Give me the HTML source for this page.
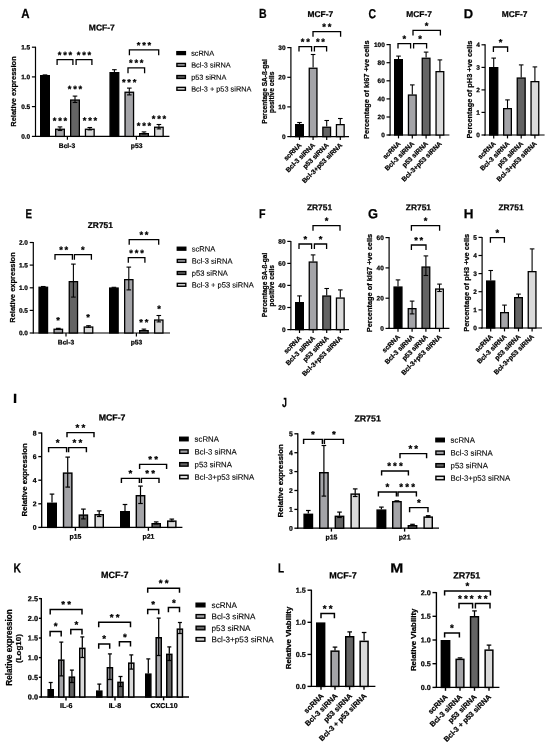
<!DOCTYPE html>
<html lang="en">
<head>
<meta charset="utf-8">
<title>Figure</title>
<style>
html,body{margin:0;padding:0;background:#fff;}
body{width:550px;height:746px;overflow:hidden;}
svg{display:block;filter:blur(0.3px);}
svg path{stroke:#000;fill:none;}
svg rect{stroke:#000;}
svg text{font-family:'Liberation Sans', Arial, sans-serif;fill:#000;stroke:none;}
svg text.b{font-weight:bold;stroke:#000;stroke-width:0.24px;}
svg text.r{font-weight:normal;fill:#000;stroke:#000;stroke-width:0.12px;}
</style>
</head>
<body>
<svg width="550" height="746" viewBox="0 0 550 746">
<rect x="0" y="0" width="550" height="746" style="fill:#fff;stroke:none"/>
<text class="b" font-size="13.2" transform="translate(21.21 18.1) rotate(0.05) scale(0.87 1)">A</text>
<text class="b" x="101.8" y="30.5" font-size="8.5" text-anchor="middle" transform="rotate(0.05 101.8 30.5)">MCF-7</text>
<text class="b" x="16.1" y="91.5" font-size="7.5" text-anchor="middle" transform="rotate(-90 16.1 91.5)">Relative expression</text>
<path d="M35.5 46.7L35.5 136.9" stroke-width="1.2"/>
<path d="M31.9 47.2L35.5 47.2" stroke-width="1.2"/>
<text class="b" x="30.2" y="49.54" font-size="6.5" text-anchor="end" transform="rotate(0.05 30.2 49.54)">1.5</text>
<path d="M31.9 76.9L35.5 76.9" stroke-width="1.2"/>
<text class="b" x="30.2" y="79.24" font-size="6.5" text-anchor="end" transform="rotate(0.05 30.2 79.24)">1.0</text>
<path d="M31.9 106.6L35.5 106.6" stroke-width="1.2"/>
<text class="b" x="30.2" y="108.94" font-size="6.5" text-anchor="end" transform="rotate(0.05 30.2 108.94)">0.5</text>
<path d="M31.9 136.4L35.5 136.4" stroke-width="1.2"/>
<text class="b" x="30.2" y="138.74" font-size="6.5" text-anchor="end" transform="rotate(0.05 30.2 138.74)">0.0</text>
<path d="M35.1 136.4L169.4 136.4" stroke-width="1.2"/>
<path d="M67.4 136.4L67.4 139.8" stroke-width="1.2"/>
<path d="M136.4 136.4L136.4 139.8" stroke-width="1.2"/>
<path d="M45 75L45 74.9" stroke-width="1.1"/>
<path d="M42.7 74.9L47.3 74.9" stroke-width="1.1"/>
<rect x="40.65" y="75.65" width="8.7" height="60.75" fill="#000000" stroke-width="1.3"/>
<path d="M60 128.6L60 126.9" stroke-width="1.1"/>
<path d="M57.7 126.9L62.3 126.9" stroke-width="1.1"/>
<rect x="55.65" y="129.25" width="8.7" height="7.15" fill="#a4a4a8" stroke-width="1.3"/>
<path d="M60 128.6L60 130.5" stroke-width="1.1"/>
<path d="M57.7 130.5L62.3 130.5" stroke-width="1.1"/>
<path d="M75 99.4L75 96.1" stroke-width="1.1"/>
<path d="M72.7 96.1L77.3 96.1" stroke-width="1.1"/>
<rect x="70.65" y="100.05" width="8.7" height="36.35" fill="#646464" stroke-width="1.3"/>
<path d="M75 99.4L75 102.5" stroke-width="1.1"/>
<path d="M72.7 102.5L77.3 102.5" stroke-width="1.1"/>
<path d="M89.8 128.6L89.8 127.5" stroke-width="1.1"/>
<path d="M87.5 127.5L92.1 127.5" stroke-width="1.1"/>
<rect x="85.45" y="129.25" width="8.7" height="7.15" fill="#dadada" stroke-width="1.3"/>
<path d="M89.8 128.6L89.8 129.9" stroke-width="1.1"/>
<path d="M87.5 129.9L92.1 129.9" stroke-width="1.1"/>
<path d="M114.4 72L114.4 69.7" stroke-width="1.1"/>
<path d="M112.1 69.7L116.7 69.7" stroke-width="1.1"/>
<rect x="110.05" y="72.65" width="8.7" height="63.75" fill="#000000" stroke-width="1.3"/>
<path d="M129.3 91.6L129.3 88.1" stroke-width="1.1"/>
<path d="M127 88.1L131.6 88.1" stroke-width="1.1"/>
<rect x="125.05" y="92.25" width="8.5" height="44.15" fill="#a4a4a8" stroke-width="1.3"/>
<path d="M129.3 91.6L129.3 94.9" stroke-width="1.1"/>
<path d="M127 94.9L131.6 94.9" stroke-width="1.1"/>
<path d="M144 133L144 131.9" stroke-width="1.1"/>
<path d="M141.7 131.9L146.3 131.9" stroke-width="1.1"/>
<rect x="139.65" y="133.65" width="8.7" height="2.75" fill="#646464" stroke-width="1.3"/>
<path d="M144 133L144 133.9" stroke-width="1.1"/>
<path d="M141.7 133.9L146.3 133.9" stroke-width="1.1"/>
<path d="M158.9 126.6L158.9 124.5" stroke-width="1.1"/>
<path d="M156.6 124.5L161.2 124.5" stroke-width="1.1"/>
<rect x="154.65" y="127.25" width="8.5" height="9.15" fill="#dadada" stroke-width="1.3"/>
<path d="M158.9 126.6L158.9 128.9" stroke-width="1.1"/>
<path d="M156.6 128.9L161.2 128.9" stroke-width="1.1"/>
<path d="M57.1 65.1L57.1 59.7L72.9 59.7L72.9 65.1" stroke-width="1.3"/>
<text class="b" font-size="9.4" text-anchor="middle" x="59.6 65 70.4" y="58.22" transform="rotate(0.05 65 58.22)">***</text>
<path d="M76.1 65.1L76.1 59.7L91.9 59.7L91.9 65.1" stroke-width="1.3"/>
<text class="b" font-size="9.4" text-anchor="middle" x="78.6 84 89.4" y="58.22" transform="rotate(0.05 84 58.22)">***</text>
<path d="M129.4 55.3L129.4 49.9L158.7 49.9L158.7 55.3" stroke-width="1.3"/>
<text class="b" font-size="9.4" text-anchor="middle" x="138.65 144.05 149.45" y="48.42" transform="rotate(0.05 144.05 48.42)">***</text>
<path d="M128 73.2L128 67.8L144.6 67.8L144.6 73.2" stroke-width="1.3"/>
<text class="b" font-size="9.4" text-anchor="middle" x="130.9 136.3 141.7" y="65.92" transform="rotate(0.05 136.3 65.92)">***</text>
<text class="b" font-size="9.4" text-anchor="middle" x="54.6 60 65.4" y="124.02" transform="rotate(0.05 60 124.02)">***</text>
<text class="b" font-size="9.4" text-anchor="middle" x="69.6 75 80.4" y="92.22" transform="rotate(0.05 75 92.22)">***</text>
<text class="b" font-size="9.4" text-anchor="middle" x="84.6 90 95.4" y="123.82" transform="rotate(0.05 90 123.82)">***</text>
<text class="b" font-size="9.4" text-anchor="middle" x="123.8 129.2 134.6" y="85.62" transform="rotate(0.05 129.2 85.62)">***</text>
<text class="b" font-size="9.4" text-anchor="middle" x="138.6 144 149.4" y="129.02" transform="rotate(0.05 144 129.02)">***</text>
<text class="b" font-size="9.4" text-anchor="middle" x="153.6 159 164.4" y="122.02" transform="rotate(0.05 159 122.02)">***</text>
<text class="b" x="67" y="147.9" font-size="6.7" text-anchor="middle" transform="rotate(0.05 67 147.9)">Bcl-3</text>
<text class="b" x="136.6" y="147.9" font-size="6.7" text-anchor="middle" transform="rotate(0.05 136.6 147.9)">p53</text>
<rect x="176.9" y="51.65" width="8.5" height="2.9" fill="#000000" stroke-width="1.4"/>
<text class="r" x="191.2" y="55.75" font-size="7.35" transform="rotate(0.05 191.2 55.75)">scRNA</text>
<rect x="176.9" y="63.45" width="8.5" height="2.9" fill="#a4a4a8" stroke-width="1.4"/>
<text class="r" x="191.2" y="67.55" font-size="7.35" transform="rotate(0.05 191.2 67.55)">Bcl-3 siRNA</text>
<rect x="176.9" y="75.55" width="8.5" height="2.9" fill="#646464" stroke-width="1.4"/>
<text class="r" x="191.2" y="79.65" font-size="7.35" transform="rotate(0.05 191.2 79.65)">p53 siRNA</text>
<rect x="176.9" y="87.35" width="8.5" height="2.9" fill="#dadada" stroke-width="1.4"/>
<text class="r" x="191.2" y="91.45" font-size="7.35" transform="rotate(0.05 191.2 91.45)">Bcl-3 + p53 siRNA</text>
<text class="b" font-size="13.2" transform="translate(259.1 18.1) rotate(0.05) scale(0.8 1)">B</text>
<text class="b" x="320.3" y="16.9" font-size="8.4" text-anchor="middle" transform="rotate(0.05 320.3 16.9)">MCF-7</text>
<text class="b" x="266.5" y="91.5" font-size="6.6" text-anchor="middle" transform="rotate(-90 266.5 91.5)">Percentage SA-ß-gal</text>
<text class="b" x="274.5" y="92.4" font-size="6.6" text-anchor="middle" transform="rotate(-90 274.5 92.4)">positive cells</text>
<path d="M290.9 47.1L290.9 137.1" stroke-width="1.2"/>
<path d="M287.3 47.6L290.9 47.6" stroke-width="1.2"/>
<text class="b" x="285.6" y="49.94" font-size="6.5" text-anchor="end" transform="rotate(0.05 285.6 49.94)">30</text>
<path d="M287.3 77.3L290.9 77.3" stroke-width="1.2"/>
<text class="b" x="285.6" y="79.64" font-size="6.5" text-anchor="end" transform="rotate(0.05 285.6 79.64)">20</text>
<path d="M287.3 106.9L290.9 106.9" stroke-width="1.2"/>
<text class="b" x="285.6" y="109.24" font-size="6.5" text-anchor="end" transform="rotate(0.05 285.6 109.24)">10</text>
<path d="M287.3 136.6L290.9 136.6" stroke-width="1.2"/>
<text class="b" x="285.6" y="138.94" font-size="6.5" text-anchor="end" transform="rotate(0.05 285.6 138.94)">0</text>
<path d="M290.1 136.6L349 136.6" stroke-width="1.2"/>
<path d="M299.5 136.6L299.5 140" stroke-width="1.2"/>
<path d="M313.1 136.6L313.1 140" stroke-width="1.2"/>
<path d="M326.7 136.6L326.7 140" stroke-width="1.2"/>
<path d="M340.3 136.6L340.3 140" stroke-width="1.2"/>
<path d="M299.5 124L299.5 122.5" stroke-width="1.1"/>
<path d="M297.2 122.5L301.8 122.5" stroke-width="1.1"/>
<rect x="295.65" y="124.65" width="7.7" height="11.95" fill="#000000" stroke-width="1.3"/>
<path d="M313.1 67.6L313.1 54.5" stroke-width="1.1"/>
<path d="M310.8 54.5L315.4 54.5" stroke-width="1.1"/>
<rect x="309.25" y="68.25" width="7.7" height="68.35" fill="#a4a4a8" stroke-width="1.3"/>
<path d="M326.7 126.6L326.7 120.5" stroke-width="1.1"/>
<path d="M324.4 120.5L329 120.5" stroke-width="1.1"/>
<rect x="322.85" y="127.25" width="7.7" height="9.35" fill="#646464" stroke-width="1.3"/>
<path d="M340.3 124L340.3 118.5" stroke-width="1.1"/>
<path d="M338 118.5L342.6 118.5" stroke-width="1.1"/>
<rect x="336.45" y="124.65" width="7.7" height="11.95" fill="#dadada" stroke-width="1.3"/>
<path d="M313 36.8L313 31.6L340.6 31.6L340.6 36.8" stroke-width="1.3"/>
<text class="b" font-size="9.4" text-anchor="middle" x="324.1 329.5" y="30.12" transform="rotate(0.05 326.8 30.12)">**</text>
<path d="M299 51.6L299 46.6L311.6 46.6L311.6 51.6" stroke-width="1.3"/>
<text class="b" font-size="9.4" text-anchor="middle" x="302.6 308" y="45.12" transform="rotate(0.05 305.3 45.12)">**</text>
<path d="M314.4 51.6L314.4 46.6L326.6 46.6L326.6 51.6" stroke-width="1.3"/>
<text class="b" font-size="9.4" text-anchor="middle" x="317.8 323.2" y="45.12" transform="rotate(0.05 320.5 45.12)">**</text>
<text class="b" x="301.9" y="145.6" font-size="6.7" text-anchor="end" transform="rotate(-45 301.9 145.6)">scRNA</text>
<text class="b" x="315.5" y="145.6" font-size="6.7" text-anchor="end" transform="rotate(-45 315.5 145.6)">Bcl-3 siRNA</text>
<text class="b" x="329.1" y="145.6" font-size="6.7" text-anchor="end" transform="rotate(-45 329.1 145.6)">p53 siRNA</text>
<text class="b" x="342.7" y="145.6" font-size="6.7" text-anchor="end" transform="rotate(-45 342.7 145.6)">Bcl-3+p53 siRNA</text>
<text class="b" font-size="13.2" transform="translate(368.58 18.2) rotate(0.05) scale(0.79 1)">C</text>
<text class="b" x="419.1" y="16.9" font-size="8.4" text-anchor="middle" transform="rotate(0.05 419.1 16.9)">MCF-7</text>
<text class="b" x="369.5" y="89.7" font-size="7.4" text-anchor="middle" transform="rotate(-90 369.5 89.7)">Percentage of ki67 +ve cells</text>
<path d="M390.1 44.1L390.1 135.5" stroke-width="1.2"/>
<path d="M386.5 44.6L390.1 44.6" stroke-width="1.2"/>
<text class="b" x="384.8" y="46.94" font-size="6.5" text-anchor="end" transform="rotate(0.05 384.8 46.94)">100</text>
<path d="M386.5 62.7L390.1 62.7" stroke-width="1.2"/>
<text class="b" x="384.8" y="65.04" font-size="6.5" text-anchor="end" transform="rotate(0.05 384.8 65.04)">80</text>
<path d="M386.5 80.8L390.1 80.8" stroke-width="1.2"/>
<text class="b" x="384.8" y="83.14" font-size="6.5" text-anchor="end" transform="rotate(0.05 384.8 83.14)">60</text>
<path d="M386.5 98.9L390.1 98.9" stroke-width="1.2"/>
<text class="b" x="384.8" y="101.24" font-size="6.5" text-anchor="end" transform="rotate(0.05 384.8 101.24)">40</text>
<path d="M386.5 117L390.1 117" stroke-width="1.2"/>
<text class="b" x="384.8" y="119.34" font-size="6.5" text-anchor="end" transform="rotate(0.05 384.8 119.34)">20</text>
<path d="M386.5 135L390.1 135" stroke-width="1.2"/>
<text class="b" x="384.8" y="137.34" font-size="6.5" text-anchor="end" transform="rotate(0.05 384.8 137.34)">0</text>
<path d="M388.5 135L449.4 135" stroke-width="1.2"/>
<path d="M398.5 135L398.5 138.4" stroke-width="1.2"/>
<path d="M412.3 135L412.3 138.4" stroke-width="1.2"/>
<path d="M426.1 135L426.1 138.4" stroke-width="1.2"/>
<path d="M439.9 135L439.9 138.4" stroke-width="1.2"/>
<path d="M398.5 59L398.5 56.1" stroke-width="1.1"/>
<path d="M396.2 56.1L400.8 56.1" stroke-width="1.1"/>
<rect x="394.65" y="59.65" width="7.7" height="75.35" fill="#000000" stroke-width="1.3"/>
<path d="M412.3 94.4L412.3 84.9" stroke-width="1.1"/>
<path d="M410 84.9L414.6 84.9" stroke-width="1.1"/>
<rect x="408.45" y="95.05" width="7.7" height="39.95" fill="#a4a4a8" stroke-width="1.3"/>
<path d="M426.1 57.6L426.1 52.1" stroke-width="1.1"/>
<path d="M423.8 52.1L428.4 52.1" stroke-width="1.1"/>
<rect x="422.25" y="58.25" width="7.7" height="76.75" fill="#646464" stroke-width="1.3"/>
<path d="M439.9 71L439.9 59.9" stroke-width="1.1"/>
<path d="M437.6 59.9L442.2 59.9" stroke-width="1.1"/>
<rect x="436.05" y="71.65" width="7.7" height="63.35" fill="#dadada" stroke-width="1.3"/>
<path d="M413 35.6L413 30.4L440.4 30.4L440.4 35.6" stroke-width="1.3"/>
<text class="b" font-size="9.4" text-anchor="middle" x="426.7" y="28.92" transform="rotate(0.05 426.7 28.92)">*</text>
<path d="M398 48.6L398 43.6L410.6 43.6L410.6 48.6" stroke-width="1.3"/>
<text class="b" font-size="9.4" text-anchor="middle" x="404.3" y="42.12" transform="rotate(0.05 404.3 42.12)">*</text>
<path d="M413.6 48.6L413.6 43.6L426.6 43.6L426.6 48.6" stroke-width="1.3"/>
<text class="b" font-size="9.4" text-anchor="middle" x="420.1" y="42.12" transform="rotate(0.05 420.1 42.12)">*</text>
<text class="b" x="400.9" y="144" font-size="6.7" text-anchor="end" transform="rotate(-45 400.9 144)">scRNA</text>
<text class="b" x="414.7" y="144" font-size="6.7" text-anchor="end" transform="rotate(-45 414.7 144)">Bcl-3 siRNA</text>
<text class="b" x="428.5" y="144" font-size="6.7" text-anchor="end" transform="rotate(-45 428.5 144)">p53 siRNA</text>
<text class="b" x="442.3" y="144" font-size="6.7" text-anchor="end" transform="rotate(-45 442.3 144)">Bcl-3+p53 siRNA</text>
<text class="b" font-size="13.2" transform="translate(463.84 18.2) rotate(0.05) scale(0.98 1)">D</text>
<text class="b" x="514.6" y="16.9" font-size="8.4" text-anchor="middle" transform="rotate(0.05 514.6 16.9)">MCF-7</text>
<text class="b" x="472.2" y="89.6" font-size="7.4" text-anchor="middle" transform="rotate(-90 472.2 89.6)">Percentage of pH3 +ve cells</text>
<path d="M485.1 44.3L485.1 135.5" stroke-width="1.2"/>
<path d="M481.5 44.8L485.1 44.8" stroke-width="1.2"/>
<text class="b" x="479.8" y="47.14" font-size="6.5" text-anchor="end" transform="rotate(0.05 479.8 47.14)">4</text>
<path d="M481.5 67.4L485.1 67.4" stroke-width="1.2"/>
<text class="b" x="479.8" y="69.74" font-size="6.5" text-anchor="end" transform="rotate(0.05 479.8 69.74)">3</text>
<path d="M481.5 89.9L485.1 89.9" stroke-width="1.2"/>
<text class="b" x="479.8" y="92.24" font-size="6.5" text-anchor="end" transform="rotate(0.05 479.8 92.24)">2</text>
<path d="M481.5 112.4L485.1 112.4" stroke-width="1.2"/>
<text class="b" x="479.8" y="114.74" font-size="6.5" text-anchor="end" transform="rotate(0.05 479.8 114.74)">1</text>
<path d="M481.5 135L485.1 135" stroke-width="1.2"/>
<text class="b" x="479.8" y="137.34" font-size="6.5" text-anchor="end" transform="rotate(0.05 479.8 137.34)">0</text>
<path d="M483.9 135L544.6 135" stroke-width="1.2"/>
<path d="M493.7 135L493.7 138.4" stroke-width="1.2"/>
<path d="M507.5 135L507.5 138.4" stroke-width="1.2"/>
<path d="M521.2 135L521.2 138.4" stroke-width="1.2"/>
<path d="M534.9 135L534.9 138.4" stroke-width="1.2"/>
<path d="M493.7 67L493.7 58.1" stroke-width="1.1"/>
<path d="M491.4 58.1L496 58.1" stroke-width="1.1"/>
<rect x="489.65" y="67.65" width="8.1" height="67.35" fill="#000000" stroke-width="1.3"/>
<path d="M507.5 108L507.5 99.9" stroke-width="1.1"/>
<path d="M505.2 99.9L509.8 99.9" stroke-width="1.1"/>
<rect x="503.65" y="108.65" width="7.7" height="26.35" fill="#a4a4a8" stroke-width="1.3"/>
<path d="M521.2 77.4L521.2 64.9" stroke-width="1.1"/>
<path d="M518.9 64.9L523.5 64.9" stroke-width="1.1"/>
<rect x="517.25" y="78.05" width="7.9" height="56.95" fill="#646464" stroke-width="1.3"/>
<path d="M534.9 81L534.9 66.9" stroke-width="1.1"/>
<path d="M532.6 66.9L537.2 66.9" stroke-width="1.1"/>
<rect x="531.05" y="81.65" width="7.7" height="53.35" fill="#dadada" stroke-width="1.3"/>
<path d="M493.4 52L493.4 47L507.6 47L507.6 52" stroke-width="1.3"/>
<text class="b" font-size="9.4" text-anchor="middle" x="500.5" y="45.52" transform="rotate(0.05 500.5 45.52)">*</text>
<text class="b" x="496.1" y="144" font-size="6.7" text-anchor="end" transform="rotate(-45 496.1 144)">scRNA</text>
<text class="b" x="509.9" y="144" font-size="6.7" text-anchor="end" transform="rotate(-45 509.9 144)">Bcl-3 siRNA</text>
<text class="b" x="523.6" y="144" font-size="6.7" text-anchor="end" transform="rotate(-45 523.6 144)">p53 siRNA</text>
<text class="b" x="537.3" y="144" font-size="6.7" text-anchor="end" transform="rotate(-45 537.3 144)">Bcl-3+p53 siRNA</text>
<text class="b" font-size="13.2" transform="translate(25.55 218.3) rotate(0.05) scale(0.74 1)">E</text>
<text class="b" x="100.3" y="228" font-size="8.4" text-anchor="middle" transform="rotate(0.05 100.3 228)">ZR751</text>
<text class="b" x="14.8" y="287.5" font-size="7.5" text-anchor="middle" transform="rotate(-90 14.8 287.5)">Relative expression</text>
<path d="M33.3 242L33.3 333.5" stroke-width="1.2"/>
<path d="M29.7 242.5L33.3 242.5" stroke-width="1.2"/>
<text class="b" x="28" y="244.84" font-size="6.5" text-anchor="end" transform="rotate(0.05 28 244.84)">2.0</text>
<path d="M29.7 265.1L33.3 265.1" stroke-width="1.2"/>
<text class="b" x="28" y="267.44" font-size="6.5" text-anchor="end" transform="rotate(0.05 28 267.44)">1.5</text>
<path d="M29.7 287.8L33.3 287.8" stroke-width="1.2"/>
<text class="b" x="28" y="290.14" font-size="6.5" text-anchor="end" transform="rotate(0.05 28 290.14)">1.0</text>
<path d="M29.7 310.4L33.3 310.4" stroke-width="1.2"/>
<text class="b" x="28" y="312.74" font-size="6.5" text-anchor="end" transform="rotate(0.05 28 312.74)">0.5</text>
<path d="M29.7 333L33.3 333" stroke-width="1.2"/>
<text class="b" x="28" y="335.34" font-size="6.5" text-anchor="end" transform="rotate(0.05 28 335.34)">0.0</text>
<path d="M33.1 333L170 333" stroke-width="1.2"/>
<path d="M66 333L66 336.4" stroke-width="1.2"/>
<path d="M136.4 333L136.4 336.4" stroke-width="1.2"/>
<path d="M43.3 286.6L43.3 286.5" stroke-width="1.1"/>
<path d="M41 286.5L45.6 286.5" stroke-width="1.1"/>
<rect x="39.05" y="287.25" width="8.5" height="45.75" fill="#000000" stroke-width="1.3"/>
<path d="M58.3 328.6L58.3 328.3" stroke-width="1.1"/>
<path d="M56 328.3L60.6 328.3" stroke-width="1.1"/>
<rect x="54.05" y="329.25" width="8.5" height="3.75" fill="#a4a4a8" stroke-width="1.3"/>
<path d="M58.3 328.6L58.3 329.1" stroke-width="1.1"/>
<path d="M56 329.1L60.6 329.1" stroke-width="1.1"/>
<path d="M73.4 281L73.4 264.1" stroke-width="1.1"/>
<path d="M71.1 264.1L75.7 264.1" stroke-width="1.1"/>
<rect x="69.25" y="281.65" width="8.3" height="51.35" fill="#646464" stroke-width="1.3"/>
<path d="M73.4 281L73.4 297.1" stroke-width="1.1"/>
<path d="M71.1 297.1L75.7 297.1" stroke-width="1.1"/>
<path d="M88.5 326.4L88.5 325.7" stroke-width="1.1"/>
<path d="M86.2 325.7L90.8 325.7" stroke-width="1.1"/>
<rect x="84.25" y="327.05" width="8.5" height="5.95" fill="#dadada" stroke-width="1.3"/>
<path d="M88.5 326.4L88.5 327.3" stroke-width="1.1"/>
<path d="M86.2 327.3L90.8 327.3" stroke-width="1.1"/>
<path d="M113.9 287.4L113.9 287.3" stroke-width="1.1"/>
<path d="M111.6 287.3L116.2 287.3" stroke-width="1.1"/>
<rect x="109.65" y="288.05" width="8.5" height="44.95" fill="#000000" stroke-width="1.3"/>
<path d="M128.8 279L128.8 267.1" stroke-width="1.1"/>
<path d="M126.5 267.1L131.1 267.1" stroke-width="1.1"/>
<rect x="124.65" y="279.65" width="8.3" height="53.35" fill="#a4a4a8" stroke-width="1.3"/>
<path d="M128.8 279L128.8 289.9" stroke-width="1.1"/>
<path d="M126.5 289.9L131.1 289.9" stroke-width="1.1"/>
<path d="M143.9 330L143.9 329.1" stroke-width="1.1"/>
<path d="M141.6 329.1L146.2 329.1" stroke-width="1.1"/>
<rect x="139.65" y="330.65" width="8.5" height="2.35" fill="#646464" stroke-width="1.3"/>
<path d="M143.9 330L143.9 330.5" stroke-width="1.1"/>
<path d="M141.6 330.5L146.2 330.5" stroke-width="1.1"/>
<path d="M158.8 319.4L158.8 315.5" stroke-width="1.1"/>
<path d="M156.5 315.5L161.1 315.5" stroke-width="1.1"/>
<rect x="154.65" y="320.05" width="8.3" height="12.95" fill="#dadada" stroke-width="1.3"/>
<path d="M158.8 319.4L158.8 321.9" stroke-width="1.1"/>
<path d="M156.5 321.9L161.1 321.9" stroke-width="1.1"/>
<path d="M55 259.8L55 254.6L72.4 254.6L72.4 259.8" stroke-width="1.3"/>
<text class="b" font-size="9.4" text-anchor="middle" x="61 66.4" y="253.12" transform="rotate(0.05 63.7 253.12)">**</text>
<path d="M74.4 259.8L74.4 254.6L91.4 254.6L91.4 259.8" stroke-width="1.3"/>
<text class="b" font-size="9.4" text-anchor="middle" x="82.9" y="253.12" transform="rotate(0.05 82.9 253.12)">*</text>
<path d="M129.2 244.8L129.2 239.6L158.7 239.6L158.7 244.8" stroke-width="1.3"/>
<text class="b" font-size="9.4" text-anchor="middle" x="141.25 146.65" y="238.12" transform="rotate(0.05 143.95 238.12)">**</text>
<path d="M128.3 262.7L128.3 257.7L144.9 257.7L144.9 262.7" stroke-width="1.3"/>
<text class="b" font-size="9.4" text-anchor="middle" x="131.2 136.6 142" y="256.22" transform="rotate(0.05 136.6 256.22)">***</text>
<text class="b" font-size="9.4" text-anchor="middle" x="58.2" y="323.62" transform="rotate(0.05 58.2 323.62)">*</text>
<text class="b" font-size="9.4" text-anchor="middle" x="88.2" y="320.62" transform="rotate(0.05 88.2 320.62)">*</text>
<text class="b" font-size="9.4" text-anchor="middle" x="141.1 146.5" y="325.62" transform="rotate(0.05 143.8 325.62)">**</text>
<text class="b" font-size="9.4" text-anchor="middle" x="159" y="312.02" transform="rotate(0.05 159 312.02)">*</text>
<text class="b" x="66" y="344.5" font-size="6.7" text-anchor="middle" transform="rotate(0.05 66 344.5)">Bcl-3</text>
<text class="b" x="136.5" y="344.5" font-size="6.7" text-anchor="middle" transform="rotate(0.05 136.5 344.5)">p53</text>
<rect x="177.3" y="247.25" width="8.5" height="2.9" fill="#000000" stroke-width="1.4"/>
<text class="r" x="191.8" y="251.42" font-size="7.55" transform="rotate(0.05 191.8 251.42)">scRNA</text>
<rect x="177.3" y="259.45" width="8.5" height="2.9" fill="#a4a4a8" stroke-width="1.4"/>
<text class="r" x="191.8" y="263.62" font-size="7.55" transform="rotate(0.05 191.8 263.62)">Bcl-3 siRNA</text>
<rect x="177.3" y="271.55" width="8.5" height="2.9" fill="#646464" stroke-width="1.4"/>
<text class="r" x="191.8" y="275.72" font-size="7.55" transform="rotate(0.05 191.8 275.72)">p53 siRNA</text>
<rect x="177.3" y="283.35" width="8.5" height="2.9" fill="#dadada" stroke-width="1.4"/>
<text class="r" x="191.8" y="287.52" font-size="7.55" transform="rotate(0.05 191.8 287.52)">Bcl-3 + p53 siRNA</text>
<text class="b" font-size="13.2" transform="translate(258.98 218.3) rotate(0.05) scale(0.81 1)">F</text>
<text class="b" x="319.5" y="210.3" font-size="8.4" text-anchor="middle" transform="rotate(0.05 319.5 210.3)">ZR751</text>
<text class="b" x="266.5" y="285" font-size="6.6" text-anchor="middle" transform="rotate(-90 266.5 285)">Percentage SA-ß-gal</text>
<text class="b" x="274.5" y="285.8" font-size="6.6" text-anchor="middle" transform="rotate(-90 274.5 285.8)">positive cells</text>
<path d="M290.9 240.9L290.9 330.1" stroke-width="1.2"/>
<path d="M287.3 241.4L290.9 241.4" stroke-width="1.2"/>
<text class="b" x="285.6" y="243.74" font-size="6.5" text-anchor="end" transform="rotate(0.05 285.6 243.74)">80</text>
<path d="M287.3 263.4L290.9 263.4" stroke-width="1.2"/>
<text class="b" x="285.6" y="265.74" font-size="6.5" text-anchor="end" transform="rotate(0.05 285.6 265.74)">60</text>
<path d="M287.3 285.4L290.9 285.4" stroke-width="1.2"/>
<text class="b" x="285.6" y="287.74" font-size="6.5" text-anchor="end" transform="rotate(0.05 285.6 287.74)">40</text>
<path d="M287.3 307.5L290.9 307.5" stroke-width="1.2"/>
<text class="b" x="285.6" y="309.84" font-size="6.5" text-anchor="end" transform="rotate(0.05 285.6 309.84)">20</text>
<path d="M287.3 329.6L290.9 329.6" stroke-width="1.2"/>
<text class="b" x="285.6" y="331.94" font-size="6.5" text-anchor="end" transform="rotate(0.05 285.6 331.94)">0</text>
<path d="M290.1 329.6L349 329.6" stroke-width="1.2"/>
<path d="M299.5 329.6L299.5 333" stroke-width="1.2"/>
<path d="M313.1 329.6L313.1 333" stroke-width="1.2"/>
<path d="M326.7 329.6L326.7 333" stroke-width="1.2"/>
<path d="M340.3 329.6L340.3 333" stroke-width="1.2"/>
<path d="M299.5 302L299.5 295.9" stroke-width="1.1"/>
<path d="M297.2 295.9L301.8 295.9" stroke-width="1.1"/>
<rect x="295.65" y="302.65" width="7.7" height="26.95" fill="#000000" stroke-width="1.3"/>
<path d="M313.1 261.4L313.1 254.9" stroke-width="1.1"/>
<path d="M310.8 254.9L315.4 254.9" stroke-width="1.1"/>
<rect x="309.25" y="262.05" width="7.7" height="67.55" fill="#a4a4a8" stroke-width="1.3"/>
<path d="M326.7 295.4L326.7 288.5" stroke-width="1.1"/>
<path d="M324.4 288.5L329 288.5" stroke-width="1.1"/>
<rect x="322.85" y="296.05" width="7.7" height="33.55" fill="#646464" stroke-width="1.3"/>
<path d="M340.3 297.4L340.3 289.9" stroke-width="1.1"/>
<path d="M338 289.9L342.6 289.9" stroke-width="1.1"/>
<rect x="336.45" y="298.05" width="7.7" height="31.55" fill="#dadada" stroke-width="1.3"/>
<path d="M313 230.8L313 225.6L340 225.6L340 230.8" stroke-width="1.3"/>
<text class="b" font-size="9.4" text-anchor="middle" x="326.5" y="224.12" transform="rotate(0.05 326.5 224.12)">*</text>
<path d="M299 249L299 244L311.6 244L311.6 249" stroke-width="1.3"/>
<text class="b" font-size="9.4" text-anchor="middle" x="305.3" y="242.52" transform="rotate(0.05 305.3 242.52)">*</text>
<path d="M314.4 249L314.4 244L326.6 244L326.6 249" stroke-width="1.3"/>
<text class="b" font-size="9.4" text-anchor="middle" x="320.5" y="242.52" transform="rotate(0.05 320.5 242.52)">*</text>
<text class="b" x="301.9" y="338.6" font-size="6.7" text-anchor="end" transform="rotate(-45 301.9 338.6)">scRNA</text>
<text class="b" x="315.5" y="338.6" font-size="6.7" text-anchor="end" transform="rotate(-45 315.5 338.6)">Bcl-3 siRNA</text>
<text class="b" x="329.1" y="338.6" font-size="6.7" text-anchor="end" transform="rotate(-45 329.1 338.6)">p53 siRNA</text>
<text class="b" x="342.7" y="338.6" font-size="6.7" text-anchor="end" transform="rotate(-45 342.7 338.6)">Bcl-3+p53 siRNA</text>
<text class="b" font-size="13.2" transform="translate(368.08 218.3) rotate(0.05) scale(0.97 1)">G</text>
<text class="b" x="418.4" y="210.3" font-size="8.4" text-anchor="middle" transform="rotate(0.05 418.4 210.3)">ZR751</text>
<text class="b" x="372.2" y="283" font-size="7.4" text-anchor="middle" transform="rotate(-90 372.2 283)">Percentage of ki67 +ve cells</text>
<path d="M389.1 237.1L389.1 328.9" stroke-width="1.2"/>
<path d="M385.5 237.6L389.1 237.6" stroke-width="1.2"/>
<text class="b" x="383.8" y="239.94" font-size="6.5" text-anchor="end" transform="rotate(0.05 383.8 239.94)">60</text>
<path d="M385.5 267.9L389.1 267.9" stroke-width="1.2"/>
<text class="b" x="383.8" y="270.24" font-size="6.5" text-anchor="end" transform="rotate(0.05 383.8 270.24)">40</text>
<path d="M385.5 298.2L389.1 298.2" stroke-width="1.2"/>
<text class="b" x="383.8" y="300.54" font-size="6.5" text-anchor="end" transform="rotate(0.05 383.8 300.54)">20</text>
<path d="M385.5 328.4L389.1 328.4" stroke-width="1.2"/>
<text class="b" x="383.8" y="330.74" font-size="6.5" text-anchor="end" transform="rotate(0.05 383.8 330.74)">0</text>
<path d="M388.1 328.4L449.4 328.4" stroke-width="1.2"/>
<path d="M398 328.4L398 331.8" stroke-width="1.2"/>
<path d="M412.1 328.4L412.1 331.8" stroke-width="1.2"/>
<path d="M425.9 328.4L425.9 331.8" stroke-width="1.2"/>
<path d="M439.5 328.4L439.5 331.8" stroke-width="1.2"/>
<path d="M398 286.4L398 279.9" stroke-width="1.1"/>
<path d="M395.7 279.9L400.3 279.9" stroke-width="1.1"/>
<rect x="394.05" y="287.05" width="7.9" height="41.35" fill="#000000" stroke-width="1.3"/>
<path d="M412.1 308L412.1 301.1" stroke-width="1.1"/>
<path d="M409.8 301.1L414.4 301.1" stroke-width="1.1"/>
<rect x="408.25" y="308.65" width="7.7" height="19.75" fill="#a4a4a8" stroke-width="1.3"/>
<path d="M412.1 308L412.1 313.9" stroke-width="1.1"/>
<path d="M409.8 313.9L414.4 313.9" stroke-width="1.1"/>
<path d="M425.9 266.4L425.9 255.9" stroke-width="1.1"/>
<path d="M423.6 255.9L428.2 255.9" stroke-width="1.1"/>
<rect x="422.05" y="267.05" width="7.7" height="61.35" fill="#646464" stroke-width="1.3"/>
<path d="M425.9 266.4L425.9 275.5" stroke-width="1.1"/>
<path d="M423.6 275.5L428.2 275.5" stroke-width="1.1"/>
<path d="M439.5 288.4L439.5 284.1" stroke-width="1.1"/>
<path d="M437.2 284.1L441.8 284.1" stroke-width="1.1"/>
<rect x="435.65" y="289.05" width="7.7" height="39.35" fill="#dadada" stroke-width="1.3"/>
<path d="M439.5 288.4L439.5 291.5" stroke-width="1.1"/>
<path d="M437.2 291.5L441.8 291.5" stroke-width="1.1"/>
<path d="M411.4 230.8L411.4 225.6L439.6 225.6L439.6 230.8" stroke-width="1.3"/>
<text class="b" font-size="9.4" text-anchor="middle" x="425.5" y="224.12" transform="rotate(0.05 425.5 224.12)">*</text>
<path d="M411.4 250L411.4 245L426 245L426 250" stroke-width="1.3"/>
<text class="b" font-size="9.4" text-anchor="middle" x="416 421.4" y="243.52" transform="rotate(0.05 418.7 243.52)">**</text>
<text class="b" x="400.4" y="337.4" font-size="6.7" text-anchor="end" transform="rotate(-45 400.4 337.4)">scRNA</text>
<text class="b" x="414.5" y="337.4" font-size="6.7" text-anchor="end" transform="rotate(-45 414.5 337.4)">Bcl-3 siRNA</text>
<text class="b" x="428.3" y="337.4" font-size="6.7" text-anchor="end" transform="rotate(-45 428.3 337.4)">p53 siRNA</text>
<text class="b" x="441.9" y="337.4" font-size="6.7" text-anchor="end" transform="rotate(-45 441.9 337.4)">Bcl-3+p53 siRNA</text>
<text class="b" font-size="13.2" transform="translate(463.8 218.3) rotate(0.05) scale(1.02 1)">H</text>
<text class="b" x="511" y="210.3" font-size="8.4" text-anchor="middle" transform="rotate(0.05 511 210.3)">ZR751</text>
<text class="b" x="469.5" y="282.8" font-size="7.4" text-anchor="middle" transform="rotate(-90 469.5 282.8)">Percentage of pH3 +ve cells</text>
<path d="M482.1 236.9L482.1 328.5" stroke-width="1.2"/>
<path d="M478.5 237.4L482.1 237.4" stroke-width="1.2"/>
<text class="b" x="476.8" y="239.74" font-size="6.5" text-anchor="end" transform="rotate(0.05 476.8 239.74)">5</text>
<path d="M478.5 255.5L482.1 255.5" stroke-width="1.2"/>
<text class="b" x="476.8" y="257.84" font-size="6.5" text-anchor="end" transform="rotate(0.05 476.8 257.84)">4</text>
<path d="M478.5 273.6L482.1 273.6" stroke-width="1.2"/>
<text class="b" x="476.8" y="275.94" font-size="6.5" text-anchor="end" transform="rotate(0.05 476.8 275.94)">3</text>
<path d="M478.5 291.7L482.1 291.7" stroke-width="1.2"/>
<text class="b" x="476.8" y="294.04" font-size="6.5" text-anchor="end" transform="rotate(0.05 476.8 294.04)">2</text>
<path d="M478.5 309.9L482.1 309.9" stroke-width="1.2"/>
<text class="b" x="476.8" y="312.24" font-size="6.5" text-anchor="end" transform="rotate(0.05 476.8 312.24)">1</text>
<path d="M478.5 328L482.1 328" stroke-width="1.2"/>
<text class="b" x="476.8" y="330.34" font-size="6.5" text-anchor="end" transform="rotate(0.05 476.8 330.34)">0</text>
<path d="M480.9 328L542 328" stroke-width="1.2"/>
<path d="M490.7 328L490.7 331.4" stroke-width="1.2"/>
<path d="M504.5 328L504.5 331.4" stroke-width="1.2"/>
<path d="M518.5 328L518.5 331.4" stroke-width="1.2"/>
<path d="M532.1 328L532.1 331.4" stroke-width="1.2"/>
<path d="M490.7 280.4L490.7 270.5" stroke-width="1.1"/>
<path d="M488.4 270.5L493 270.5" stroke-width="1.1"/>
<rect x="486.65" y="281.05" width="8.1" height="46.95" fill="#000000" stroke-width="1.3"/>
<path d="M504.5 312L504.5 305.1" stroke-width="1.1"/>
<path d="M502.2 305.1L506.8 305.1" stroke-width="1.1"/>
<rect x="500.65" y="312.65" width="7.7" height="15.35" fill="#a4a4a8" stroke-width="1.3"/>
<path d="M518.5 297L518.5 294.1" stroke-width="1.1"/>
<path d="M516.2 294.1L520.8 294.1" stroke-width="1.1"/>
<rect x="514.65" y="297.65" width="7.7" height="30.35" fill="#646464" stroke-width="1.3"/>
<path d="M532.1 271L532.1 248.9" stroke-width="1.1"/>
<path d="M529.8 248.9L534.4 248.9" stroke-width="1.1"/>
<rect x="528.25" y="271.65" width="7.7" height="56.35" fill="#dadada" stroke-width="1.3"/>
<path d="M490.4 242.8L490.4 237.6L504.4 237.6L504.4 242.8" stroke-width="1.3"/>
<text class="b" font-size="9.4" text-anchor="middle" x="497.4" y="236.12" transform="rotate(0.05 497.4 236.12)">*</text>
<text class="b" x="493.1" y="337" font-size="6.7" text-anchor="end" transform="rotate(-45 493.1 337)">scRNA</text>
<text class="b" x="506.9" y="337" font-size="6.7" text-anchor="end" transform="rotate(-45 506.9 337)">Bcl-3 siRNA</text>
<text class="b" x="520.9" y="337" font-size="6.7" text-anchor="end" transform="rotate(-45 520.9 337)">p53 siRNA</text>
<text class="b" x="534.5" y="337" font-size="6.7" text-anchor="end" transform="rotate(-45 534.5 337)">Bcl-3+p53 siRNA</text>
<text class="b" font-size="13.2" transform="translate(13.12 403) rotate(0.05) scale(1.11 1)">I</text>
<text class="b" x="112.1" y="420.6" font-size="8.8" text-anchor="middle" transform="rotate(0.05 112.1 420.6)">MCF-7</text>
<text class="b" x="27.2" y="479.8" font-size="7.8" text-anchor="middle" transform="rotate(-90 27.2 479.8)">Relative expression</text>
<path d="M41.7 432.5L41.7 527.9" stroke-width="1.32"/>
<path d="M38.3 433L41.7 433" stroke-width="1.32"/>
<text class="b" x="36.6" y="435.45" font-size="6.8" text-anchor="end" transform="rotate(0.05 36.6 435.45)">8</text>
<path d="M38.3 456.6L41.7 456.6" stroke-width="1.32"/>
<text class="b" x="36.6" y="459.05" font-size="6.8" text-anchor="end" transform="rotate(0.05 36.6 459.05)">6</text>
<path d="M38.3 480.2L41.7 480.2" stroke-width="1.32"/>
<text class="b" x="36.6" y="482.65" font-size="6.8" text-anchor="end" transform="rotate(0.05 36.6 482.65)">4</text>
<path d="M38.3 503.8L41.7 503.8" stroke-width="1.32"/>
<text class="b" x="36.6" y="506.25" font-size="6.8" text-anchor="end" transform="rotate(0.05 36.6 506.25)">2</text>
<path d="M38.3 527.4L41.7 527.4" stroke-width="1.32"/>
<text class="b" x="36.6" y="529.85" font-size="6.8" text-anchor="end" transform="rotate(0.05 36.6 529.85)">0</text>
<path d="M40.9 527.4L182.4 527.4" stroke-width="1.32"/>
<path d="M75.4 527.4L75.4 530.8" stroke-width="1.32"/>
<path d="M148.4 527.4L148.4 530.8" stroke-width="1.32"/>
<path d="M52 502.6L52 494.1" stroke-width="1.21"/>
<path d="M49.7 494.1L54.3 494.1" stroke-width="1.21"/>
<rect x="47.72" y="503.31" width="8.57" height="24.08" fill="#000000" stroke-width="1.43"/>
<path d="M67.7 472.4L67.7 457.1" stroke-width="1.21"/>
<path d="M65.4 457.1L70 457.1" stroke-width="1.21"/>
<rect x="63.52" y="473.11" width="8.37" height="54.28" fill="#a4a4a8" stroke-width="1.43"/>
<path d="M67.7 472.4L67.7 487.1" stroke-width="1.21"/>
<path d="M65.4 487.1L70 487.1" stroke-width="1.21"/>
<path d="M83.4 514.4L83.4 509.1" stroke-width="1.21"/>
<path d="M81.1 509.1L85.7 509.1" stroke-width="1.21"/>
<rect x="79.31" y="515.12" width="8.17" height="12.29" fill="#646464" stroke-width="1.43"/>
<path d="M83.4 514.4L83.4 518.9" stroke-width="1.21"/>
<path d="M81.1 518.9L85.7 518.9" stroke-width="1.21"/>
<path d="M99.2 514L99.2 510.9" stroke-width="1.21"/>
<path d="M96.9 510.9L101.5 510.9" stroke-width="1.21"/>
<rect x="95.12" y="514.72" width="8.17" height="12.68" fill="#dadada" stroke-width="1.43"/>
<path d="M99.2 514L99.2 516.5" stroke-width="1.21"/>
<path d="M96.9 516.5L101.5 516.5" stroke-width="1.21"/>
<path d="M125 511L125 504.5" stroke-width="1.21"/>
<path d="M122.7 504.5L127.3 504.5" stroke-width="1.21"/>
<rect x="120.72" y="511.71" width="8.57" height="15.68" fill="#000000" stroke-width="1.43"/>
<path d="M140.5 495L140.5 486.1" stroke-width="1.21"/>
<path d="M138.2 486.1L142.8 486.1" stroke-width="1.21"/>
<rect x="136.31" y="495.71" width="8.37" height="31.68" fill="#a4a4a8" stroke-width="1.43"/>
<path d="M140.5 495L140.5 503.5" stroke-width="1.21"/>
<path d="M138.2 503.5L142.8 503.5" stroke-width="1.21"/>
<path d="M156.2 523L156.2 521.9" stroke-width="1.21"/>
<path d="M153.9 521.9L158.5 521.9" stroke-width="1.21"/>
<rect x="152.12" y="523.72" width="8.17" height="3.68" fill="#646464" stroke-width="1.43"/>
<path d="M156.2 523L156.2 523.9" stroke-width="1.21"/>
<path d="M153.9 523.9L158.5 523.9" stroke-width="1.21"/>
<path d="M171.8 520.4L171.8 519.1" stroke-width="1.21"/>
<path d="M169.5 519.1L174.1 519.1" stroke-width="1.21"/>
<rect x="167.72" y="521.12" width="8.17" height="6.29" fill="#dadada" stroke-width="1.43"/>
<path d="M171.8 520.4L171.8 521.5" stroke-width="1.21"/>
<path d="M169.5 521.5L174.1 521.5" stroke-width="1.21"/>
<path d="M67 437.2L67 432.6L94 432.6L94 437.2" stroke-width="1.43"/>
<text class="b" font-size="9.78" text-anchor="middle" x="77.53 83.47" y="430.91" transform="rotate(0.05 80.5 430.91)">**</text>
<path d="M48.6 452.2L48.6 447.6L66.6 447.6L66.6 452.2" stroke-width="1.43"/>
<text class="b" font-size="9.78" text-anchor="middle" x="57.6" y="445.91" transform="rotate(0.05 57.6 445.91)">*</text>
<path d="M68.6 452.2L68.6 447.6L86.4 447.6L86.4 452.2" stroke-width="1.43"/>
<text class="b" font-size="9.78" text-anchor="middle" x="74.53 80.47" y="445.91" transform="rotate(0.05 77.5 445.91)">**</text>
<path d="M139.6 469L139.6 464.4L166.6 464.4L166.6 469" stroke-width="1.43"/>
<text class="b" font-size="9.78" text-anchor="middle" x="150.13 156.07" y="462.71" transform="rotate(0.05 153.1 462.71)">**</text>
<path d="M121.4 483L121.4 478.4L139.4 478.4L139.4 483" stroke-width="1.43"/>
<text class="b" font-size="9.78" text-anchor="middle" x="130.4" y="476.71" transform="rotate(0.05 130.4 476.71)">*</text>
<path d="M141.4 483L141.4 478.4L159 478.4L159 483" stroke-width="1.43"/>
<text class="b" font-size="9.78" text-anchor="middle" x="147.23 153.17" y="476.71" transform="rotate(0.05 150.2 476.71)">**</text>
<text class="b" x="75.4" y="538.8" font-size="6.9" text-anchor="middle" transform="rotate(0.05 75.4 538.8)">p15</text>
<text class="b" x="148.4" y="538.8" font-size="6.9" text-anchor="middle" transform="rotate(0.05 148.4 538.8)">p21</text>
<rect x="179.7" y="437.25" width="8.4" height="3.5" fill="#000000" stroke-width="1.4"/>
<text class="r" x="194.6" y="441.81" font-size="7.8" transform="rotate(0.05 194.6 441.81)">scRNA</text>
<rect x="179.7" y="449.85" width="8.4" height="3.5" fill="#a4a4a8" stroke-width="1.4"/>
<text class="r" x="194.6" y="454.41" font-size="7.8" transform="rotate(0.05 194.6 454.41)">Bcl-3 siRNA</text>
<rect x="179.7" y="462.65" width="8.4" height="3.5" fill="#646464" stroke-width="1.4"/>
<text class="r" x="194.6" y="467.21" font-size="7.8" transform="rotate(0.05 194.6 467.21)">p53 siRNA</text>
<rect x="179.7" y="475.25" width="8.4" height="3.5" fill="#dadada" stroke-width="1.4"/>
<text class="r" x="194.6" y="479.81" font-size="7.8" transform="rotate(0.05 194.6 479.81)">Bcl-3+p53 siRNA</text>
<text class="b" font-size="13.2" transform="translate(282.07 407) rotate(0.05) scale(0.67 1)">J</text>
<text class="b" x="367.6" y="421.4" font-size="8.8" text-anchor="middle" transform="rotate(0.05 367.6 421.4)">ZR751</text>
<text class="b" x="282.7" y="480.8" font-size="7.8" text-anchor="middle" transform="rotate(-90 282.7 480.8)">Relative expression</text>
<path d="M297.8 433.3L297.8 528.7" stroke-width="1.32"/>
<path d="M294.4 433.8L297.8 433.8" stroke-width="1.32"/>
<text class="b" x="292.7" y="436.25" font-size="6.8" text-anchor="end" transform="rotate(0.05 292.7 436.25)">5</text>
<path d="M294.4 452.7L297.8 452.7" stroke-width="1.32"/>
<text class="b" x="292.7" y="455.15" font-size="6.8" text-anchor="end" transform="rotate(0.05 292.7 455.15)">4</text>
<path d="M294.4 471.6L297.8 471.6" stroke-width="1.32"/>
<text class="b" x="292.7" y="474.05" font-size="6.8" text-anchor="end" transform="rotate(0.05 292.7 474.05)">3</text>
<path d="M294.4 490.5L297.8 490.5" stroke-width="1.32"/>
<text class="b" x="292.7" y="492.95" font-size="6.8" text-anchor="end" transform="rotate(0.05 292.7 492.95)">2</text>
<path d="M294.4 509.4L297.8 509.4" stroke-width="1.32"/>
<text class="b" x="292.7" y="511.85" font-size="6.8" text-anchor="end" transform="rotate(0.05 292.7 511.85)">1</text>
<path d="M294.4 528.2L297.8 528.2" stroke-width="1.32"/>
<text class="b" x="292.7" y="530.65" font-size="6.8" text-anchor="end" transform="rotate(0.05 292.7 530.65)">0</text>
<path d="M297.1 528.2L439 528.2" stroke-width="1.32"/>
<path d="M331.4 528.2L331.4 531.6" stroke-width="1.32"/>
<path d="M404.6 528.2L404.6 531.6" stroke-width="1.32"/>
<path d="M308.3 513.6L308.3 510.5" stroke-width="1.21"/>
<path d="M306 510.5L310.6 510.5" stroke-width="1.21"/>
<rect x="304.11" y="514.32" width="8.37" height="13.89" fill="#000000" stroke-width="1.43"/>
<path d="M323.9 472L323.9 445.5" stroke-width="1.21"/>
<path d="M321.6 445.5L326.2 445.5" stroke-width="1.21"/>
<rect x="319.71" y="472.71" width="8.37" height="55.49" fill="#a4a4a8" stroke-width="1.43"/>
<path d="M323.9 472L323.9 496.1" stroke-width="1.21"/>
<path d="M321.6 496.1L326.2 496.1" stroke-width="1.21"/>
<path d="M339.5 515.6L339.5 512.1" stroke-width="1.21"/>
<path d="M337.2 512.1L341.8 512.1" stroke-width="1.21"/>
<rect x="335.31" y="516.32" width="8.37" height="11.89" fill="#646464" stroke-width="1.43"/>
<path d="M339.5 515.6L339.5 517.5" stroke-width="1.21"/>
<path d="M337.2 517.5L341.8 517.5" stroke-width="1.21"/>
<path d="M355.2 493.4L355.2 488.9" stroke-width="1.21"/>
<path d="M352.9 488.9L357.5 488.9" stroke-width="1.21"/>
<rect x="351.11" y="494.11" width="8.17" height="34.09" fill="#dadada" stroke-width="1.43"/>
<path d="M355.2 493.4L355.2 496.5" stroke-width="1.21"/>
<path d="M352.9 496.5L357.5 496.5" stroke-width="1.21"/>
<path d="M381.4 509.4L381.4 507.1" stroke-width="1.21"/>
<path d="M379.1 507.1L383.7 507.1" stroke-width="1.21"/>
<rect x="377.11" y="510.11" width="8.57" height="18.09" fill="#000000" stroke-width="1.43"/>
<path d="M396.9 501L396.9 500.9" stroke-width="1.21"/>
<path d="M394.6 500.9L399.2 500.9" stroke-width="1.21"/>
<rect x="392.71" y="501.71" width="8.37" height="26.49" fill="#a4a4a8" stroke-width="1.43"/>
<path d="M396.9 501L396.9 501.3" stroke-width="1.21"/>
<path d="M394.6 501.3L399.2 501.3" stroke-width="1.21"/>
<path d="M412.5 525L412.5 524.3" stroke-width="1.21"/>
<path d="M410.2 524.3L414.8 524.3" stroke-width="1.21"/>
<rect x="408.31" y="525.72" width="8.37" height="2.49" fill="#646464" stroke-width="1.43"/>
<path d="M412.5 525L412.5 525.5" stroke-width="1.21"/>
<path d="M410.2 525.5L414.8 525.5" stroke-width="1.21"/>
<path d="M428.2 516.4L428.2 515.7" stroke-width="1.21"/>
<path d="M425.9 515.7L430.5 515.7" stroke-width="1.21"/>
<rect x="424.11" y="517.12" width="8.17" height="11.09" fill="#dadada" stroke-width="1.43"/>
<path d="M428.2 516.4L428.2 516.9" stroke-width="1.21"/>
<path d="M425.9 516.9L430.5 516.9" stroke-width="1.21"/>
<path d="M303.6 444L303.6 439.4L322.4 439.4L322.4 444" stroke-width="1.43"/>
<text class="b" font-size="9.78" text-anchor="middle" x="313" y="437.71" transform="rotate(0.05 313 437.71)">*</text>
<path d="M324.4 444L324.4 439.4L343.4 439.4L343.4 444" stroke-width="1.43"/>
<text class="b" font-size="9.78" text-anchor="middle" x="333.9" y="437.71" transform="rotate(0.05 333.9 437.71)">*</text>
<path d="M400 458.2L400 453.6L426.6 453.6L426.6 458.2" stroke-width="1.43"/>
<text class="b" font-size="9.78" text-anchor="middle" x="410.33 416.27" y="451.91" transform="rotate(0.05 413.3 451.91)">**</text>
<path d="M381.6 475.6L381.6 471L408.4 471L408.4 475.6" stroke-width="1.43"/>
<text class="b" font-size="9.78" text-anchor="middle" x="389.06 395 400.94" y="469.31" transform="rotate(0.05 395 469.31)">***</text>
<path d="M378.4 496.6L378.4 492L396.4 492L396.4 496.6" stroke-width="1.43"/>
<text class="b" font-size="9.78" text-anchor="middle" x="387.4" y="490.31" transform="rotate(0.05 387.4 490.31)">*</text>
<path d="M398 496.6L398 492L416.4 492L416.4 496.6" stroke-width="1.43"/>
<text class="b" font-size="9.78" text-anchor="middle" x="401.26 407.2 413.14" y="490.31" transform="rotate(0.05 407.2 490.31)">***</text>
<path d="M409.6 512.2L409.6 507.6L428 507.6L428 512.2" stroke-width="1.43"/>
<text class="b" font-size="9.78" text-anchor="middle" x="418.8" y="505.91" transform="rotate(0.05 418.8 505.91)">*</text>
<text class="b" x="331.4" y="539.6" font-size="6.9" text-anchor="middle" transform="rotate(0.05 331.4 539.6)">p15</text>
<text class="b" x="404.6" y="539.6" font-size="6.9" text-anchor="middle" transform="rotate(0.05 404.6 539.6)">p21</text>
<rect x="435.9" y="438.25" width="8.4" height="3.5" fill="#000000" stroke-width="1.4"/>
<text class="r" x="450.6" y="442.81" font-size="7.8" transform="rotate(0.05 450.6 442.81)">scRNA</text>
<rect x="435.9" y="451.05" width="8.4" height="3.5" fill="#a4a4a8" stroke-width="1.4"/>
<text class="r" x="450.6" y="455.61" font-size="7.8" transform="rotate(0.05 450.6 455.61)">Bcl-3 siRNA</text>
<rect x="435.9" y="463.65" width="8.4" height="3.5" fill="#646464" stroke-width="1.4"/>
<text class="r" x="450.6" y="468.21" font-size="7.8" transform="rotate(0.05 450.6 468.21)">p53 siRNA</text>
<rect x="435.9" y="476.25" width="8.4" height="3.5" fill="#dadada" stroke-width="1.4"/>
<text class="r" x="450.6" y="480.81" font-size="7.8" transform="rotate(0.05 450.6 480.81)">Bcl-3+p53 siRNA</text>
<text class="b" font-size="13.2" transform="translate(13.51 572.6) rotate(0.05) scale(0.78 1)">K</text>
<text class="b" x="114.8" y="577.9" font-size="9" text-anchor="middle" transform="rotate(0.05 114.8 577.9)">MCF-7</text>
<text class="b" x="12.2" y="647.5" font-size="8.15" text-anchor="middle" transform="rotate(-90 12.2 647.5)">Relative expression</text>
<text class="b" x="20.8" y="648.5" font-size="8" text-anchor="middle" transform="rotate(-90 20.8 648.5)">(Log10)</text>
<path d="M41.3 598.1L41.3 697.5" stroke-width="1.38"/>
<path d="M38.9 598.6L41.3 598.6" stroke-width="1.38"/>
<text class="b" x="38" y="601.23" font-size="7.3" text-anchor="end" transform="rotate(0.05 38 601.23)">2.5</text>
<path d="M38.9 618.3L41.3 618.3" stroke-width="1.38"/>
<text class="b" x="38" y="620.93" font-size="7.3" text-anchor="end" transform="rotate(0.05 38 620.93)">2.0</text>
<path d="M38.9 638L41.3 638" stroke-width="1.38"/>
<text class="b" x="38" y="640.63" font-size="7.3" text-anchor="end" transform="rotate(0.05 38 640.63)">1.5</text>
<path d="M38.9 657.6L41.3 657.6" stroke-width="1.38"/>
<text class="b" x="38" y="660.23" font-size="7.3" text-anchor="end" transform="rotate(0.05 38 660.23)">1.0</text>
<path d="M38.9 677.3L41.3 677.3" stroke-width="1.38"/>
<text class="b" x="38" y="679.93" font-size="7.3" text-anchor="end" transform="rotate(0.05 38 679.93)">0.5</text>
<path d="M38.9 697L41.3 697" stroke-width="1.38"/>
<text class="b" x="38" y="699.63" font-size="7.3" text-anchor="end" transform="rotate(0.05 38 699.63)">0.0</text>
<path d="M40.5 697L189 697" stroke-width="1.38"/>
<path d="M66 697L66 700.4" stroke-width="1.38"/>
<path d="M115 697L115 700.4" stroke-width="1.38"/>
<path d="M163.6 697L163.6 700.4" stroke-width="1.38"/>
<path d="M50.7 689L50.7 682.5" stroke-width="1.26"/>
<path d="M48.7 682.5L52.7 682.5" stroke-width="1.26"/>
<rect x="48.15" y="689.75" width="5.11" height="7.25" fill="#000000" stroke-width="1.49"/>
<path d="M61.3 659.4L61.3 642.1" stroke-width="1.26"/>
<path d="M59.3 642.1L63.3 642.1" stroke-width="1.26"/>
<rect x="58.75" y="660.15" width="5.1" height="36.85" fill="#a4a4a8" stroke-width="1.49"/>
<path d="M61.3 659.4L61.3 675.9" stroke-width="1.26"/>
<path d="M59.3 675.9L63.3 675.9" stroke-width="1.26"/>
<path d="M71.9 676.4L71.9 670.1" stroke-width="1.26"/>
<path d="M69.9 670.1L73.9 670.1" stroke-width="1.26"/>
<rect x="69.35" y="677.15" width="5.11" height="19.85" fill="#646464" stroke-width="1.49"/>
<path d="M71.9 676.4L71.9 682.5" stroke-width="1.26"/>
<path d="M69.9 682.5L73.9 682.5" stroke-width="1.26"/>
<path d="M82.3 647.6L82.3 636.9" stroke-width="1.26"/>
<path d="M80.3 636.9L84.3 636.9" stroke-width="1.26"/>
<rect x="79.75" y="648.35" width="5.1" height="48.65" fill="#dadada" stroke-width="1.49"/>
<path d="M82.3 647.6L82.3 657.5" stroke-width="1.26"/>
<path d="M80.3 657.5L84.3 657.5" stroke-width="1.26"/>
<path d="M99.3 690.4L99.3 684.1" stroke-width="1.26"/>
<path d="M97.3 684.1L101.3 684.1" stroke-width="1.26"/>
<rect x="96.75" y="691.15" width="5.1" height="5.85" fill="#000000" stroke-width="1.49"/>
<path d="M109.9 667L109.9 653.9" stroke-width="1.26"/>
<path d="M107.9 653.9L111.9 653.9" stroke-width="1.26"/>
<rect x="107.35" y="667.75" width="5.11" height="29.25" fill="#a4a4a8" stroke-width="1.49"/>
<path d="M109.9 667L109.9 679.5" stroke-width="1.26"/>
<path d="M107.9 679.5L111.9 679.5" stroke-width="1.26"/>
<path d="M120.5 681.6L120.5 676.5" stroke-width="1.26"/>
<path d="M118.5 676.5L122.5 676.5" stroke-width="1.26"/>
<rect x="117.95" y="682.35" width="5.1" height="14.65" fill="#646464" stroke-width="1.49"/>
<path d="M120.5 681.6L120.5 686.5" stroke-width="1.26"/>
<path d="M118.5 686.5L122.5 686.5" stroke-width="1.26"/>
<path d="M131.3 662.4L131.3 654.9" stroke-width="1.26"/>
<path d="M129.3 654.9L133.3 654.9" stroke-width="1.26"/>
<rect x="128.75" y="663.15" width="5.1" height="33.85" fill="#dadada" stroke-width="1.49"/>
<path d="M131.3 662.4L131.3 669.1" stroke-width="1.26"/>
<path d="M129.3 669.1L133.3 669.1" stroke-width="1.26"/>
<path d="M148.3 673.4L148.3 658.9" stroke-width="1.26"/>
<path d="M146.3 658.9L150.3 658.9" stroke-width="1.26"/>
<rect x="145.75" y="674.15" width="5.1" height="22.85" fill="#000000" stroke-width="1.49"/>
<path d="M158.7 637L158.7 618.1" stroke-width="1.26"/>
<path d="M156.7 618.1L160.7 618.1" stroke-width="1.26"/>
<rect x="156.15" y="637.75" width="5.1" height="59.25" fill="#a4a4a8" stroke-width="1.49"/>
<path d="M158.7 637L158.7 655.5" stroke-width="1.26"/>
<path d="M156.7 655.5L160.7 655.5" stroke-width="1.26"/>
<path d="M169.3 653.6L169.3 646.9" stroke-width="1.26"/>
<path d="M167.3 646.9L171.3 646.9" stroke-width="1.26"/>
<rect x="166.75" y="654.35" width="5.1" height="42.65" fill="#646464" stroke-width="1.49"/>
<path d="M169.3 653.6L169.3 660.5" stroke-width="1.26"/>
<path d="M167.3 660.5L171.3 660.5" stroke-width="1.26"/>
<path d="M179.9 628.4L179.9 622.5" stroke-width="1.26"/>
<path d="M177.9 622.5L181.9 622.5" stroke-width="1.26"/>
<rect x="177.35" y="629.15" width="5.1" height="67.85" fill="#dadada" stroke-width="1.49"/>
<path d="M179.9 628.4L179.9 633.5" stroke-width="1.26"/>
<path d="M177.9 633.5L181.9 633.5" stroke-width="1.26"/>
<path d="M50.2 614.5L50.2 609.5L82 609.5L82 614.5" stroke-width="1.49"/>
<text class="b" font-size="9.78" text-anchor="middle" x="63.13 69.07" y="607.81" transform="rotate(0.05 66.1 607.81)">**</text>
<path d="M50.1 636.5L50.1 631.6L61.2 631.6L61.2 636.5" stroke-width="1.49"/>
<text class="b" font-size="9.78" text-anchor="middle" x="55.65" y="629.61" transform="rotate(0.05 55.65 629.61)">*</text>
<path d="M70.8 634.4L70.8 629.5L82 629.5L82 634.4" stroke-width="1.49"/>
<text class="b" font-size="9.78" text-anchor="middle" x="76.4" y="628.01" transform="rotate(0.05 76.4 628.01)">*</text>
<path d="M98.7 627.2L98.7 622.3L130.5 622.3L130.5 627.2" stroke-width="1.49"/>
<text class="b" font-size="9.78" text-anchor="middle" x="111.63 117.57" y="620.71" transform="rotate(0.05 114.6 620.71)">**</text>
<path d="M98.7 648.7L98.7 643.9L109.7 643.9L109.7 648.7" stroke-width="1.49"/>
<text class="b" font-size="9.78" text-anchor="middle" x="104.2" y="642.11" transform="rotate(0.05 104.2 642.11)">*</text>
<path d="M119.4 646.6L119.4 641.8L130.5 641.8L130.5 646.6" stroke-width="1.49"/>
<text class="b" font-size="9.78" text-anchor="middle" x="124.95" y="640.41" transform="rotate(0.05 124.95 640.41)">*</text>
<path d="M147.7 592.8L147.7 588.2L179.5 588.2L179.5 592.8" stroke-width="1.49"/>
<text class="b" font-size="9.78" text-anchor="middle" x="160.63 166.57" y="586.41" transform="rotate(0.05 163.6 586.41)">**</text>
<path d="M147.7 614.3L147.7 609.5L158.7 609.5L158.7 614.3" stroke-width="1.49"/>
<text class="b" font-size="9.78" text-anchor="middle" x="153.2" y="607.81" transform="rotate(0.05 153.2 607.81)">*</text>
<path d="M168.4 612.3L168.4 607.5L179.5 607.5L179.5 612.3" stroke-width="1.49"/>
<text class="b" font-size="9.78" text-anchor="middle" x="173.95" y="606.21" transform="rotate(0.05 173.95 606.21)">*</text>
<text class="b" x="66.2" y="708" font-size="7.05" text-anchor="middle" transform="rotate(0.05 66.2 708)">IL-6</text>
<text class="b" x="114.9" y="708" font-size="7.05" text-anchor="middle" transform="rotate(0.05 114.9 708)">IL-8</text>
<text class="b" x="164.1" y="708" font-size="7.05" text-anchor="middle" transform="rotate(0.05 164.1 708)">CXCL10</text>
<rect x="196.1" y="603.2" width="8.8" height="3.6" fill="#000000" stroke-width="1.4"/>
<text class="r" x="211.6" y="607.93" font-size="8.15" transform="rotate(0.05 211.6 607.93)">scRNA</text>
<rect x="196.1" y="614.6" width="8.8" height="3.6" fill="#a4a4a8" stroke-width="1.4"/>
<text class="r" x="211.6" y="619.33" font-size="8.15" transform="rotate(0.05 211.6 619.33)">Bcl-3 siRNA</text>
<rect x="196.1" y="626.2" width="8.8" height="3.6" fill="#646464" stroke-width="1.4"/>
<text class="r" x="211.6" y="630.93" font-size="8.15" transform="rotate(0.05 211.6 630.93)">p53 siRNA</text>
<rect x="196.1" y="637.6" width="8.8" height="3.6" fill="#dadada" stroke-width="1.4"/>
<text class="r" x="211.6" y="642.33" font-size="8.15" transform="rotate(0.05 211.6 642.33)">Bcl-3+p53 siRNA</text>
<text class="b" font-size="13.2" transform="translate(278.03 572.6) rotate(0.05) scale(0.75 1)">L</text>
<text class="b" x="342.9" y="578.4" font-size="9" text-anchor="middle" transform="rotate(0.05 342.9 578.4)">MCF-7</text>
<text class="b" x="290.9" y="638" font-size="7.9" text-anchor="middle" transform="rotate(-90 290.9 638)">Relative Viability</text>
<path d="M311.4 589.7L311.4 686.9" stroke-width="1.38"/>
<path d="M307.5 590.2L311.4 590.2" stroke-width="1.38"/>
<text class="b" x="305.8" y="592.79" font-size="7.2" text-anchor="end" transform="rotate(0.05 305.8 592.79)">1.5</text>
<path d="M307.5 622.3L311.4 622.3" stroke-width="1.38"/>
<text class="b" x="305.8" y="624.89" font-size="7.2" text-anchor="end" transform="rotate(0.05 305.8 624.89)">1.0</text>
<path d="M307.5 654.4L311.4 654.4" stroke-width="1.38"/>
<text class="b" x="305.8" y="656.99" font-size="7.2" text-anchor="end" transform="rotate(0.05 305.8 656.99)">0.5</text>
<path d="M307.5 686.4L311.4 686.4" stroke-width="1.38"/>
<text class="b" x="305.8" y="688.99" font-size="7.2" text-anchor="end" transform="rotate(0.05 305.8 688.99)">0.0</text>
<path d="M311.1 686.4L375.4 686.4" stroke-width="1.38"/>
<path d="M321 686.4L321 689.8" stroke-width="1.38"/>
<path d="M335 686.4L335 689.8" stroke-width="1.38"/>
<path d="M349.6 686.4L349.6 689.8" stroke-width="1.38"/>
<path d="M364 686.4L364 689.8" stroke-width="1.38"/>
<rect x="316.75" y="623.15" width="7.9" height="63.25" fill="#000000" stroke-width="1.49"/>
<path d="M335 650.4L335 647.1" stroke-width="1.26"/>
<path d="M332.7 647.1L337.3 647.1" stroke-width="1.26"/>
<rect x="331.15" y="651.15" width="7.71" height="35.25" fill="#a4a4a8" stroke-width="1.49"/>
<path d="M349.7 636L349.7 631.9" stroke-width="1.26"/>
<path d="M347.4 631.9L352 631.9" stroke-width="1.26"/>
<rect x="345.75" y="636.75" width="7.9" height="49.65" fill="#646464" stroke-width="1.49"/>
<path d="M364.1 640.6L364.1 632.5" stroke-width="1.26"/>
<path d="M361.8 632.5L366.4 632.5" stroke-width="1.26"/>
<rect x="360.15" y="641.35" width="7.91" height="45.05" fill="#dadada" stroke-width="1.49"/>
<path d="M321 618.2L321 613.6L334.4 613.6L334.4 618.2" stroke-width="1.49"/>
<text class="b" font-size="9.78" text-anchor="middle" x="324.73 330.67" y="611.91" transform="rotate(0.05 327.7 611.91)">**</text>
<text class="b" x="324" y="696.5" font-size="7.4" text-anchor="end" transform="rotate(-45 324 696.5)">scRNA</text>
<text class="b" x="338" y="696.5" font-size="7.4" text-anchor="end" transform="rotate(-45 338 696.5)">Bcl-3 siRNA</text>
<text class="b" x="352.6" y="696.5" font-size="7.4" text-anchor="end" transform="rotate(-45 352.6 696.5)">p53 siRNA</text>
<text class="b" x="367" y="696.5" font-size="7.4" text-anchor="end" transform="rotate(-45 367 696.5)">Bcl-3 + p53 siRNA</text>
<text class="b" font-size="13.2" transform="translate(390.15 572.6) rotate(0.05) scale(1.18 1)">M</text>
<text class="b" x="466.8" y="578.4" font-size="9" text-anchor="middle" transform="rotate(0.05 466.8 578.4)">ZR751</text>
<text class="b" x="416.2" y="639.8" font-size="7.9" text-anchor="middle" transform="rotate(-90 416.2 639.8)">Relative Viability</text>
<path d="M436.4 592.1L436.4 687.9" stroke-width="1.38"/>
<path d="M432.5 592.6L436.4 592.6" stroke-width="1.38"/>
<text class="b" x="430.8" y="595.19" font-size="7.2" text-anchor="end" transform="rotate(0.05 430.8 595.19)">2.0</text>
<path d="M432.5 616.3L436.4 616.3" stroke-width="1.38"/>
<text class="b" x="430.8" y="618.89" font-size="7.2" text-anchor="end" transform="rotate(0.05 430.8 618.89)">1.5</text>
<path d="M432.5 640L436.4 640" stroke-width="1.38"/>
<text class="b" x="430.8" y="642.59" font-size="7.2" text-anchor="end" transform="rotate(0.05 430.8 642.59)">1.0</text>
<path d="M432.5 663.7L436.4 663.7" stroke-width="1.38"/>
<text class="b" x="430.8" y="666.29" font-size="7.2" text-anchor="end" transform="rotate(0.05 430.8 666.29)">0.5</text>
<path d="M432.5 687.4L436.4 687.4" stroke-width="1.38"/>
<text class="b" x="430.8" y="689.99" font-size="7.2" text-anchor="end" transform="rotate(0.05 430.8 689.99)">0.0</text>
<path d="M435.5 687.4L499.4 687.4" stroke-width="1.38"/>
<path d="M445.5 687.4L445.5 690.8" stroke-width="1.38"/>
<path d="M460 687.4L460 690.8" stroke-width="1.38"/>
<path d="M474.5 687.4L474.5 690.8" stroke-width="1.38"/>
<path d="M489 687.4L489 690.8" stroke-width="1.38"/>
<rect x="441.35" y="640.75" width="8.3" height="46.65" fill="#000000" stroke-width="1.49"/>
<path d="M460 658.6L460 657.9" stroke-width="1.26"/>
<path d="M457.7 657.9L462.3 657.9" stroke-width="1.26"/>
<rect x="456.15" y="659.35" width="7.71" height="28.05" fill="#a4a4a8" stroke-width="1.49"/>
<path d="M474.5 616L474.5 610.9" stroke-width="1.26"/>
<path d="M472.2 610.9L476.8 610.9" stroke-width="1.26"/>
<rect x="470.55" y="616.75" width="7.9" height="70.65" fill="#646464" stroke-width="1.49"/>
<path d="M489 649.4L489 645.1" stroke-width="1.26"/>
<path d="M486.7 645.1L491.3 645.1" stroke-width="1.26"/>
<rect x="485.15" y="650.15" width="7.71" height="37.25" fill="#dadada" stroke-width="1.49"/>
<path d="M444.6 595.6L444.6 591L490.4 591L490.4 595.6" stroke-width="1.49"/>
<text class="b" font-size="9.78" text-anchor="middle" x="467.5" y="589.31" transform="rotate(0.05 467.5 589.31)">*</text>
<path d="M459 608.4L459 603.6L472.6 603.6L472.6 608.4" stroke-width="1.49"/>
<text class="b" font-size="9.78" text-anchor="middle" x="459.86 465.8 471.74" y="601.91" transform="rotate(0.05 465.8 601.91)">***</text>
<path d="M475.4 608.4L475.4 603.6L490 603.6L490 608.4" stroke-width="1.49"/>
<text class="b" font-size="9.78" text-anchor="middle" x="479.73 485.67" y="601.91" transform="rotate(0.05 482.7 601.91)">**</text>
<path d="M444.6 637.6L444.6 633L459.4 633L459.4 637.6" stroke-width="1.49"/>
<text class="b" font-size="9.78" text-anchor="middle" x="452" y="631.31" transform="rotate(0.05 452 631.31)">*</text>
<text class="b" x="448.1" y="697.4" font-size="7.4" text-anchor="end" transform="rotate(-45 448.1 697.4)">scRNA</text>
<text class="b" x="462.6" y="697.4" font-size="7.4" text-anchor="end" transform="rotate(-45 462.6 697.4)">Bcl-3 siRNA</text>
<text class="b" x="477.1" y="697.4" font-size="7.4" text-anchor="end" transform="rotate(-45 477.1 697.4)">p53 siRNA</text>
<text class="b" x="491.6" y="697.4" font-size="7.4" text-anchor="end" transform="rotate(-45 491.6 697.4)">Bcl-3 + p53 siRNA</text>
</svg>
</body>
</html>
